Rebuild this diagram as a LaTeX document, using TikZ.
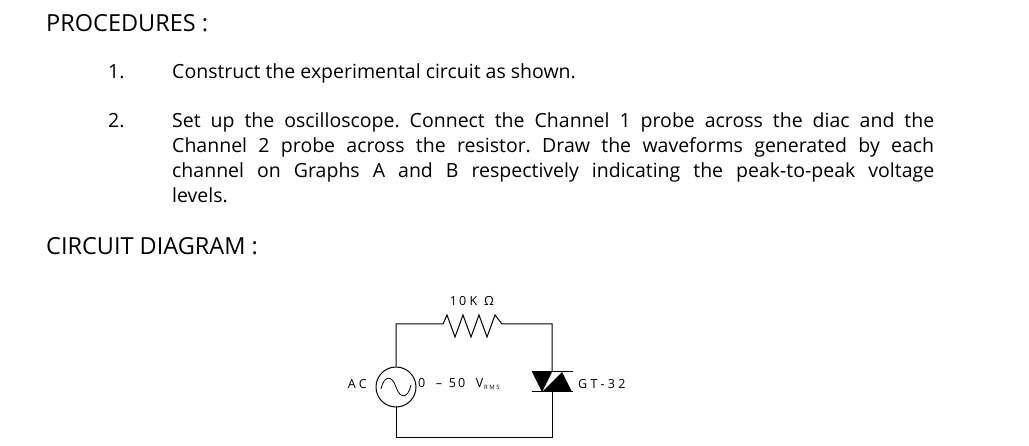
\documentclass[tikz,border=0pt]{standalone}
\usepackage{fontspec}
\setmainfont{Open Sans}
\begin{document}
\begin{tikzpicture}[x=1pt,y=-1pt,
  head/.style={anchor=base west,font=\fontsize{23.5}{26}\selectfont,inner sep=0},
  body/.style={anchor=north west,font=\fontsize{19.5}{25}\selectfont\frenchspacing,inner sep=0,align=justify},
  lab/.style={font=\fontsize{12.5}{14}\selectfont,inner sep=0},
  wire/.style={line width=1pt}]
\useasboundingbox (0,0) rectangle (1029,446);
\node[head] (h1) at (46,32) {PROCEDURES :};
\node[body,anchor=base west] (n1) at (108,79) {1.};
\node[body,anchor=base west] (t1) at (172,79) {Construct the experimental circuit as shown.};
\node[body,anchor=base west] (n2) at (108,128) {2.};
\node[body,text width=762pt,anchor=base west] (t2) at (172,128) {\hyphenpenalty=10000 Set up the oscilloscope. Connect the Channel 1 probe across the diac and the\linebreak Channel 2 probe across the resistor. Draw the waveforms generated by each\linebreak channel on Graphs A and B respectively indicating the peak-to-peak voltage\linebreak levels.};
\node[head] (h2) at (46,255) {CIRCUIT DIAGRAM :};
% circuit
\coordinate (tl) at (396,324); \coordinate (tr) at (552,324);
\coordinate (bl) at (396,438); \coordinate (br) at (552,438);
\node[circle,draw,line width=1pt,minimum size=40pt,inner sep=0] (src) at (396,387) {};
\draw[wire] (src.north) -- (tl) -- (443,324) -- (447,315) -- (455,337) -- (463,315) -- (471,337) -- (479,315) -- (487,337) -- (495,315) -- (502,324) -- (tr) -- (552,372);
\draw[wire] (src.south) -- (bl) -- (br) -- (552,392);
\draw[line width=0.8pt] (381,389) .. controls (384,375) and (392,375) .. (396,387) .. controls (400,399) and (408,399) .. (411,385);
\fill (532,372) -- (552,372) -- (542,392) -- cycle;
\fill (542,392) -- (562,372) -- (572,392) -- cycle;
\draw[line width=1pt] (532,372) -- (573,372) (532,392) -- (573,392);
\node[lab] (r) at (472,301) {1\,0 K\;\;Ω};
\node[lab,anchor=east] (ac) at (367,384) {A C};
\node[lab,anchor=west] (v) at (418,384) {0\;\;\;–\;\;5\,0\;\;\;V\raisebox{-2pt}{\fontsize{6}{7}\selectfont\,R M S}};
\node[lab,anchor=west] (gt) at (578,384) {G T - 3 2};
\end{tikzpicture}
\end{document}
